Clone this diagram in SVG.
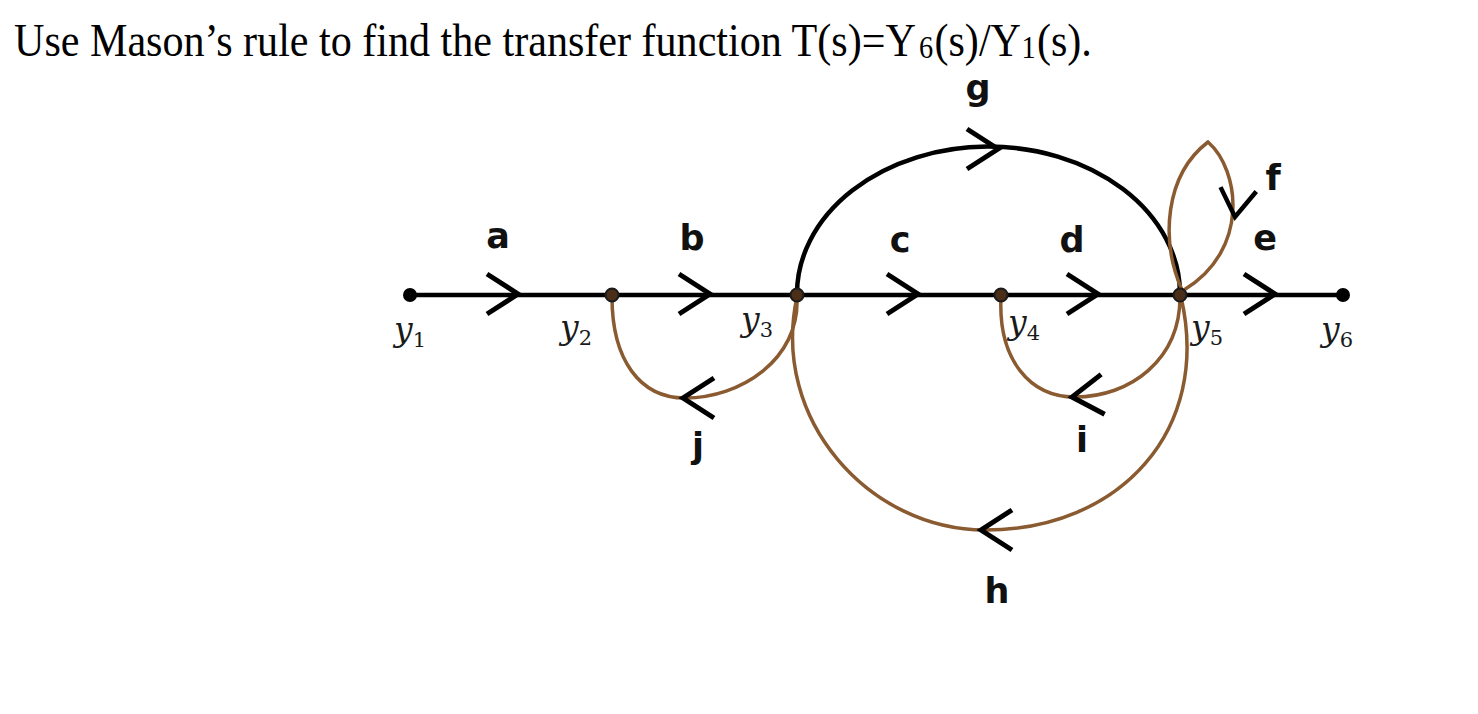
<svg xmlns="http://www.w3.org/2000/svg" xmlns:xlink="http://www.w3.org/1999/xlink" width="1478" height="714" viewBox="0 0 1478 714">
<style>
.title{font-family:"Liberation Serif","Times New Roman",serif;font-size:46px;fill:#000}
.tsub{font-family:"Liberation Serif","Times New Roman",serif;font-size:31px;fill:#000}
.lbl{font-family:"DejaVu Sans",Verdana,sans-serif;font-weight:bold;font-size:35px;fill:#111;text-anchor:middle}
.nl{font-family:"DejaVu Serif","Liberation Serif",serif;font-style:italic;font-size:33px;fill:#1a1a1a}
.sub{font-style:normal;font-size:21px}
.blk{fill:none;stroke:#000;stroke-width:4.5}
.brn{fill:none;stroke:#8a5a30;stroke-width:3.5}
.chev{fill:none;stroke:#000;stroke-width:5;stroke-linecap:butt;stroke-linejoin:miter}
.end{fill:#000}
.mid{fill:#4a2e18;stroke:#1a1a1a;stroke-width:2}
</style>
<defs>
<path id="chev" class="chev" d="M-31,-20 L0,0 L-31,20"/>
</defs>
<rect width="1478" height="714" fill="#fff"/>
<g id="title" transform="translate(14,56) scale(0.915,1)">
<text class="title" x="0" y="0">Use Mason’s rule to find the transfer function T(s)=Y</text>
<text class="tsub" x="989" y="2">6</text>
<text class="title" x="1006" y="0">(s)/Y</text>
<text class="tsub" x="1101" y="2">1</text>
<text class="title" x="1118" y="0">(s).</text>
</g>
<g id="connectors">
<path id="main" class="blk" d="M410,295 H1343"/>
<path id="g-branch" class="blk" d="M797,295 A191 147 0 0 1 1180,293"/>
<path id="j-branch" class="brn" d="M797,297 C800,360 740,398 685,398 C640,398 612,360 612,297"/>
<path id="h-branch" class="brn" d="M1181,297 C1212,430 1120,530 985,530 C870,530 770,420 797,297"/>
<path id="i-branch" class="brn" d="M1180,297 C1180,360 1130,397 1075,397 C1030,397 998,360 1001,297"/>
<path id="f-loop" class="brn" d="M1182,290 C1160,240 1165,175 1208,142 C1240,170 1250,250 1184,290"/>
<use xlink:href="#chev" transform="translate(518,294)"/>
<use xlink:href="#chev" transform="translate(710,294)"/>
<use xlink:href="#chev" transform="translate(918,294)"/>
<use xlink:href="#chev" transform="translate(1098,294)"/>
<use xlink:href="#chev" transform="translate(1275,294)"/>
<use xlink:href="#chev" transform="translate(998,149)"/>
<use xlink:href="#chev" transform="translate(683,398) rotate(180)"/>
<use xlink:href="#chev" transform="translate(1072,397) rotate(175)"/>
<use xlink:href="#chev" transform="translate(981,530) rotate(180)"/>
<use xlink:href="#chev" transform="translate(1235,217) rotate(97) scale(0.9)"/>
</g>
<g id="edge-labels">
<text class="lbl" x="498" y="248">a</text>
<text class="lbl" x="692" y="250">b</text>
<text class="lbl" x="900" y="252">c</text>
<text class="lbl" x="1072" y="252">d</text>
<text class="lbl" x="1265" y="250">e</text>
<text class="lbl" x="1273" y="190">f</text>
<text class="lbl" x="978" y="100">g</text>
<text class="lbl" x="997" y="603">h</text>
<text class="lbl" x="1082" y="452">i</text>
<text class="lbl" x="698" y="458">j</text>
</g>
<g id="node-y1"><circle class="end" cx="410" cy="295" r="7"/><text class="nl" x="394" y="341">y<tspan class="sub" dy="6">1</tspan></text></g>
<g id="node-y2"><circle class="mid" cx="612" cy="295" r="6.5"/><text class="nl" x="560" y="339">y<tspan class="sub" dy="6">2</tspan></text></g>
<g id="node-y3"><circle class="mid" cx="797" cy="295" r="6.5"/><text class="nl" x="741" y="331">y<tspan class="sub" dy="6">3</tspan></text></g>
<g id="node-y4"><circle class="mid" cx="1001" cy="295" r="6.5"/><text class="nl" x="1008" y="334">y<tspan class="sub" dy="6">4</tspan></text></g>
<g id="node-y5"><circle class="mid" cx="1180" cy="295" r="6.5"/><text class="nl" x="1191" y="339">y<tspan class="sub" dy="6">5</tspan></text></g>
<g id="node-y6"><circle class="end" cx="1343" cy="295" r="7"/><text class="nl" x="1321" y="341">y<tspan class="sub" dy="6">6</tspan></text></g>
</svg>
